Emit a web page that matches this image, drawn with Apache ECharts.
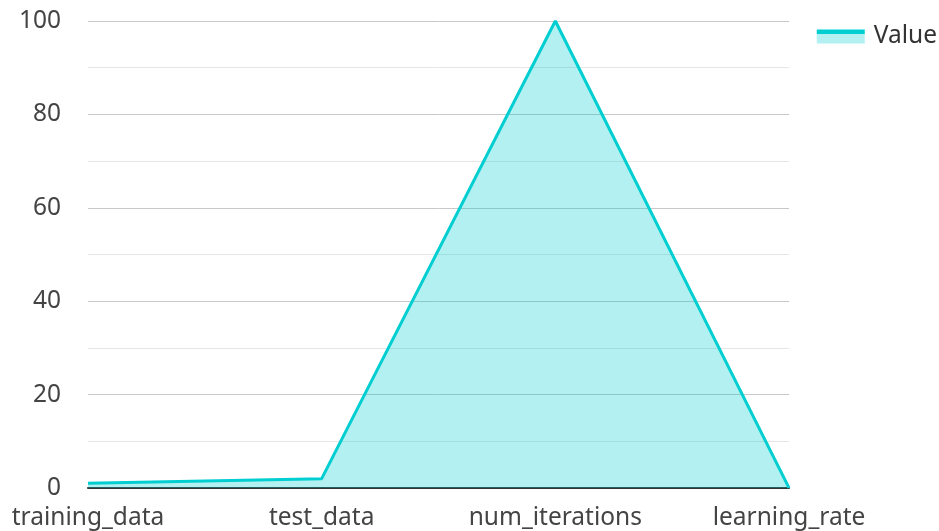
<!DOCTYPE html>
<html>
<head>
<meta charset="utf-8">
<script src="https://cdn.jsdelivr.net/npm/echarts@6/dist/echarts.min.js"></script>
<style>
  html, body { margin: 0; padding: 0; background: #fff; }
  #chart { width: 939px; height: 531px; }
</style>
</head>
<body>
<div id="chart"></div>
<script>
const categories = ['training_data', 'test_data', 'num_iterations', 'learning_rate'];
const values = [1, 2, 100, 0.01];
const seriesName = 'Value';

const chart = echarts.init(document.getElementById('chart'));
const lineColor = '#00CED1';
const fillColor = '#b2f0f1';
const font = '"Noto Sans", "Open Sans", sans-serif';

chart.setOption({
  animation: false,
  textStyle: { fontFamily: font },
  grid: { left: 88, right: 150, top: 21, bottom: 43, containLabel: false },
  legend: {
    data: [{
      name: seriesName,
      icon: 'rect',
      itemStyle: {
        color: new echarts.graphic.LinearGradient(0, 0, 0, 1, [
          { offset: 0, color: lineColor },
          { offset: 0.3, color: lineColor },
          { offset: 0.3, color: fillColor },
          { offset: 1, color: fillColor }
        ])
      }
    }],
    right: 2,
    top: 24,
    padding: 0,
    itemWidth: 48,
    itemHeight: 14,
    itemGap: 10,
    textStyle: { fontSize: 24.5, color: '#333', fontFamily: font, padding: [0, 0, 0, 4] }
  },
  xAxis: {
    type: 'category',
    data: categories,
    boundaryGap: false,
    axisLine: { show: true, lineStyle: { color: '#333', width: 2 } },
    axisTick: { show: false },
    axisLabel: { fontSize: 24.5, color: '#444', margin: 18, fontFamily: font }
  },
  yAxis: {
    type: 'value',
    min: 0,
    max: 100,
    interval: 20,
    axisLine: { show: false },
    axisTick: { show: false },
    axisLabel: { fontSize: 24.5, color: '#444', margin: 27, fontFamily: font },
    splitLine: { show: true, lineStyle: { color: '#c8c8c8', width: 1 } },
    minorTick: { show: false, splitNumber: 2 },
    minorSplitLine: { show: true, lineStyle: { color: '#e6e6e6', width: 1 } }
  },
  series: [{
    name: seriesName,
    type: 'line',
    data: values,
    symbol: 'none',
    lineStyle: { color: lineColor, width: 3 },
    itemStyle: { color: lineColor },
    areaStyle: { color: lineColor, opacity: 0.3 }
  }]
});
</script>
</body>
</html>
